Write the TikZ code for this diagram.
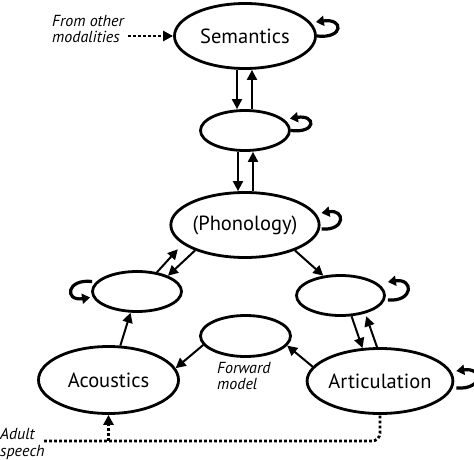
\documentclass[tikz,border=0pt]{standalone}
\usepackage{fontspec}
\setmainfont{PT Sans}
\usetikzlibrary{shapes.geometric, arrows.meta}

\tikzset{
  blob/.style = {ellipse, draw, line width=2.8pt, inner sep=0pt, font=\fontsize{20.5}{23}\selectfont},
  link/.style = {->, line width=2pt},
  selfloop/.style = {-{Triangle[length=8pt, width=10pt]}, line width=3.2pt},
  dots/.style = {->, line width=2.8pt, dash pattern=on 2.8pt off 2.2pt},
  note/.style = {font=\itshape\fontsize{16}{16.5}\selectfont, align=left, inner sep=0pt, anchor=west}
}

\begin{document}
\begin{tikzpicture}[x=1pt, y=-1pt, >={Triangle[length=10pt, width=10pt]}]
\useasboundingbox (0, 0) rectangle (474, 460);

% the ellipses
\node[blob, minimum width=141pt, minimum height=65pt] at (245, 36) (sem) {Semantics};
\node[blob, minimum width=89pt, minimum height=40pt] at (245, 130.5) (mid) {};
\node[blob, minimum width=141pt, minimum height=65pt] at (245, 225) (phon) {(Phonology)};
\node[blob, minimum width=89pt, minimum height=40pt] at (137, 291.5) (lsm) {};
\node[blob, minimum width=88pt, minimum height=40pt] at (340.5, 295.5) (rsm) {};
\node[blob, minimum width=90pt, minimum height=41pt] at (245.5, 336) (fwd) {};
\node[blob, minimum width=140pt, minimum height=67pt] at (108.5, 380) (acou) {Acoustics};
\node[blob, minimum width=139pt, minimum height=65pt] at (380, 381) (artic) {Articulation};

% labels
\node[note] at (52, 29) (src) {From other\\modalities};
\node[note] at (217, 376) (fwdlbl) {Forward\\model};
\node[note] at (0, 444) (adult) {Adult\\speech};
\coordinate (bus) at (44, 441);

% links
\draw[link] ([xshift=-8pt]sem.south) -- ([xshift=-8pt]mid.north);
\draw[link] ([xshift=7pt]mid.north) -- ([xshift=7pt]sem.south);
\draw[link] ([xshift=-7pt]mid.south) -- ([xshift=-7pt]phon.north);
\draw[link] ([xshift=8pt]phon.north) -- ([xshift=8pt]mid.south);
\draw[link, shorten >=7pt] (lsm.44) -- (phon.197);
\draw[link] (phon.207) -- (lsm.27);
\draw[link] (phon.333) -- (rsm.131);
\draw[link] (rsm.298) -- (artic.118);
\draw[link, shorten >=3pt] (artic.95) -- (rsm.324);
\draw[link] (artic.168) -- (fwd.347);
\draw[link] (fwd.192) -- (acou.10);
\draw[link] (acou.71) -- (lsm.253);

% self loops
\draw[selfloop] (sem.east) .. controls +(27, 3) and +(28, -4) .. ([shift={(-1, -14)}]sem.east);
\draw[selfloop] (mid.east) .. controls +(26, 3) and +(26, -4) .. ([shift={(-1, -12)}]mid.east);
\draw[selfloop] ([shift={(1, 4)}]phon.east) .. controls +(24, 2) and +(24, -4) .. ([shift={(1, -12)}]phon.east);
\draw[selfloop] ([shift={(1, -10)}]lsm.west) .. controls +(-26, -3) and +(-26, 4) .. ([shift={(-1, 6)}]lsm.west);
\draw[selfloop] ([shift={(2, 4.5)}]rsm.east) .. controls +(26, 2) and +(26, -4) .. ([shift={(2, -13.5)}]rsm.east);
\draw[selfloop] ([shift={(2, 7)}]artic.east) .. controls +(27, 2) and +(27, -4) .. ([shift={(2, -10)}]artic.east);

% dotted inputs
\draw[dots, shorten <=4pt] (src.east |- sem.west) -- (sem.west);
\draw[dots, -, rounded corners=8pt] (bus) -| (artic.south);
\draw[dots] (acou.south |- bus) -- (acou.south);

\end{tikzpicture}
\end{document}
